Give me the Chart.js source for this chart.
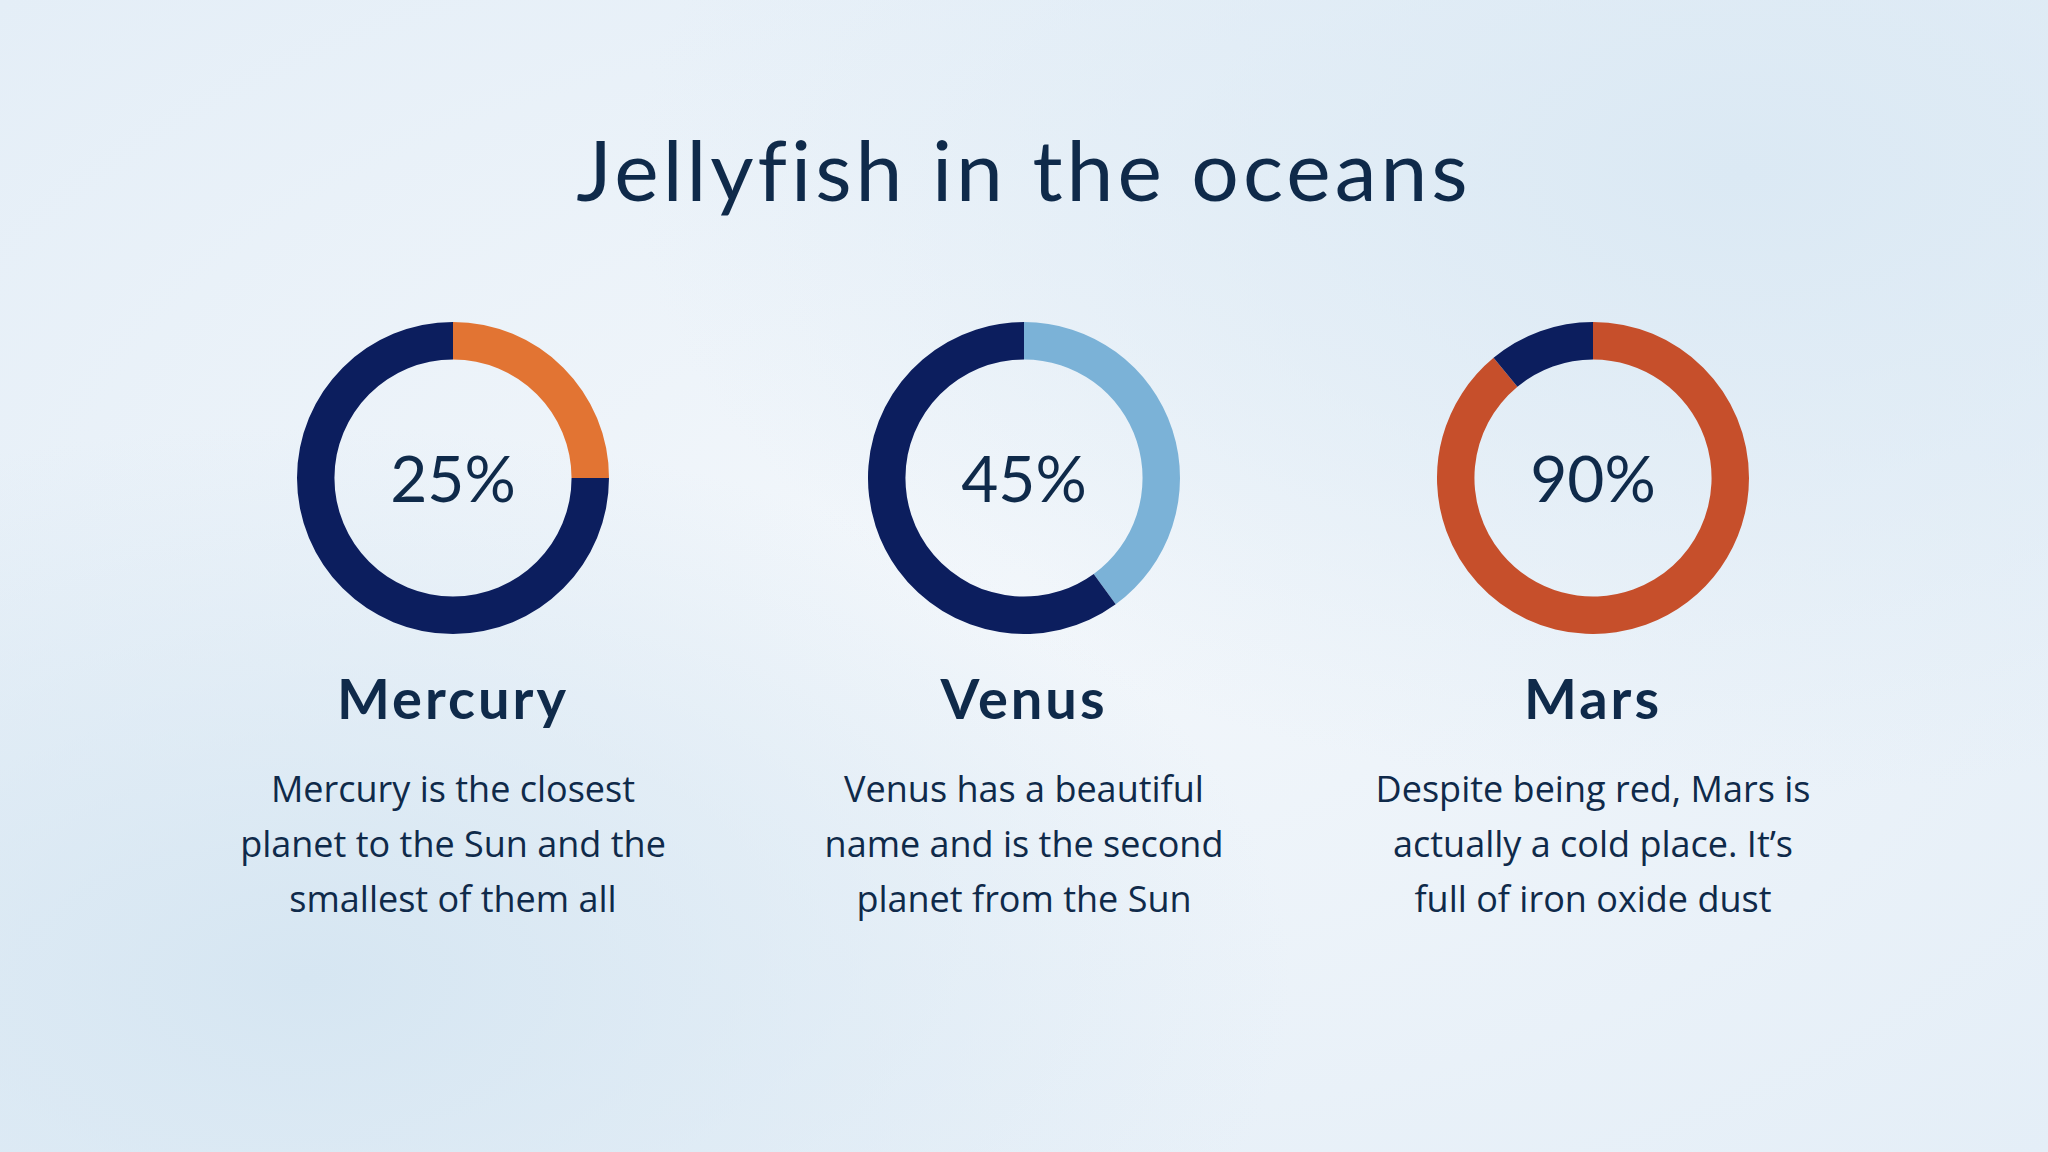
<!DOCTYPE html>
<html>
<head>
<title>Jellyfish in the oceans</title>
<script src="https://cdn.jsdelivr.net/npm/chart.js"></script>
<style>
body {
  margin: 0;
  width: 2048px;
  height: 1152px;
  overflow: hidden;
  background: radial-gradient(ellipse at 15% 85%, #d6e6f2 0%, rgba(214,230,242,0) 40%),
              radial-gradient(ellipse at 85% 15%, #dbe9f4 0%, rgba(219,233,244,0) 45%),
              radial-gradient(ellipse at 50% 50%, #f3f7fb 0%, #e4eef7 100%);
  font-family: "Open Sans", sans-serif;
  color: #0f2a4a;
}
#title {
  position: absolute;
  top: 118px;
  width: 100%;
  text-align: center;
  font-family: Lato, sans-serif;
  font-size: 84px;
  letter-spacing: 4px;
  color: #0f2a4a;
}
.card {
  position: absolute;
  top: 322px;
  width: 480px;
  margin-left: -240px;
  text-align: center;
}
.ring { position: relative; width: 312px; height: 312px; margin: 0 auto; }
.pct {
  position: absolute; left: 0; top: 0; width: 100%; line-height: 312px;
  font-family: Lato, sans-serif; font-size: 64px; color: #0f2a4a;
}
.name {
  margin-top: 30px;
  font-family: Lato, sans-serif; font-weight: bold; font-size: 56px; letter-spacing: 3px;
}
.desc { margin-top: 30px; font-size: 36px; line-height: 55px; }
</style>
</head>
<body>
<div id="title">Jellyfish in the oceans</div>
<div id="cards"></div>
<script>
const planets = ["Mercury", "Venus", "Mars"];
const labels = [25, 45, 90];
const arcShares = [25, 40, 89];
const mainColors = ["#e27433", "#7bb2d7", "#c64f2b"];
const restColor = "#0c1e5e";
const centersX = [453, 1024, 1593];
const descriptions = [
  ["Mercury is the closest", "planet to the Sun and the", "smallest of them all"],
  ["Venus has a beautiful", "name and is the second", "planet from the Sun"],
  ["Despite being red, Mars is", "actually a cold place. It\u2019s", "full of iron oxide dust"]
];

const cards = document.getElementById("cards");
planets.forEach((p, i) => {
  const card = document.createElement("div");
  card.className = "card";
  card.style.left = centersX[i] + "px";
  card.innerHTML = `<div class="ring"><canvas></canvas><div class="pct">${labels[i]}%</div></div>
    <div class="name">${p}</div><div class="desc">${descriptions[i].join("<br>")}</div>`;
  cards.appendChild(card);
  new Chart(card.querySelector("canvas"), {
    type: "doughnut",
    data: {
      labels: [p, "Rest"],
      datasets: [{
        data: [arcShares[i], 100 - arcShares[i]],
        backgroundColor: [mainColors[i], restColor],
        borderWidth: 0
      }]
    },
    options: {
      responsive: true,
      maintainAspectRatio: true,
      animation: false,
      cutout: "76%",
      plugins: { legend: { display: false }, tooltip: { enabled: false } }
    }
  });
});
</script>
</body>
</html>
